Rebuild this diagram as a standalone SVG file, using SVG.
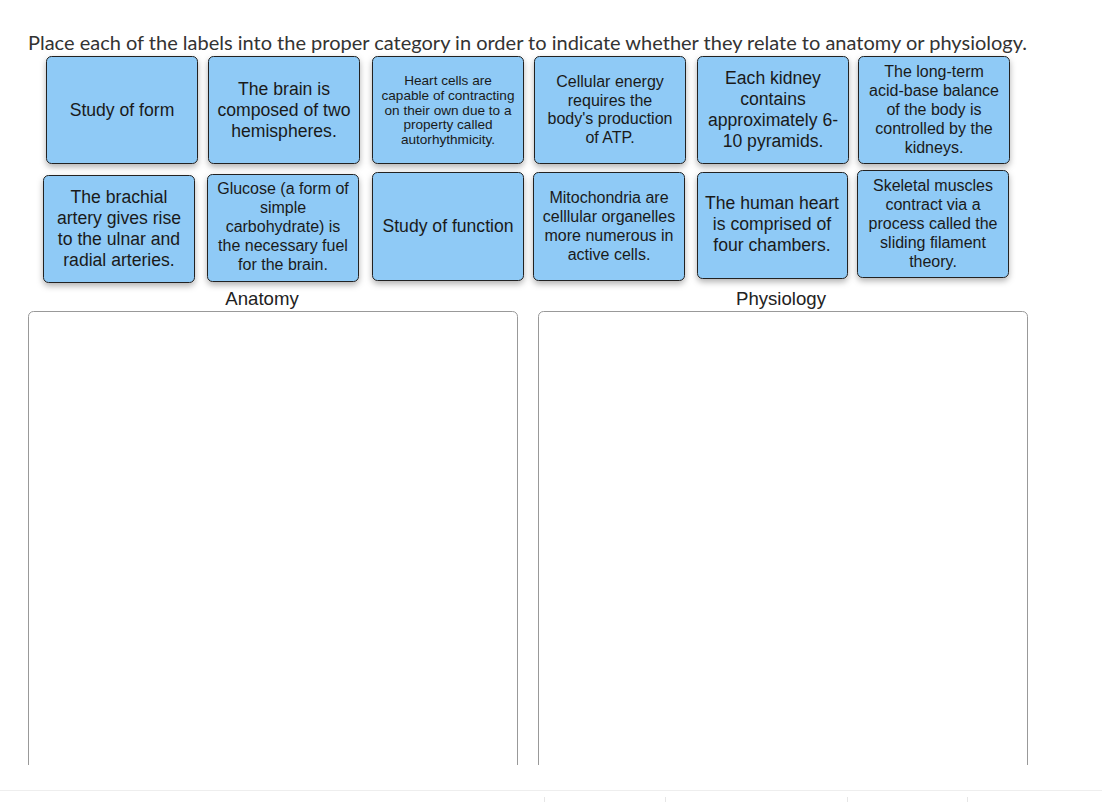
<svg xmlns="http://www.w3.org/2000/svg" width="1102" height="802" viewBox="0 0 1102 802">
<defs>
<filter id="sh" x="-10%" y="-10%" width="120%" height="130%">
<feDropShadow dx="0" dy="3" stdDeviation="3" flood-color="#000" flood-opacity="0.3"/>
</filter>
</defs>
<style>
.card{fill:#8fcaf6;stroke:#222;stroke-width:1;filter:url(#sh)}
.t{font-family:"Liberation Sans",Arial,sans-serif;fill:#1a1a1a;text-anchor:middle}
.l{font-size:17.6px}
.m{font-size:16px}
.s{font-size:13.6px}
.zone{fill:#fff;stroke:#999;stroke-width:1}
.hd{font-family:"Liberation Sans",Arial,sans-serif;font-size:18.6px;fill:#222;text-anchor:middle}
</style>
<rect width="1102" height="802" fill="#fff"/>
<text x="28" y="50" font-family="Lato,'Open Sans',sans-serif" font-size="18.5" fill="#333" textLength="999" lengthAdjust="spacingAndGlyphs">Place each of the labels into the proper category in order to indicate whether they relate to anatomy or physiology.</text>

<g id="card-study-form"><rect class="card" x="46.5" y="56.5" width="151" height="107" rx="5"/><text class="t l" x="122" y="116">Study of form</text></g>
<g id="card-brain"><rect class="card" x="208.5" y="56.5" width="151" height="107" rx="5"/><text class="t l"><tspan x="284" y="95">The brain is</tspan><tspan x="284" y="116">composed of two</tspan><tspan x="284" y="136.5">hemispheres.</tspan></text></g>
<g id="card-heart-cells"><rect class="card" x="372.5" y="56.5" width="151" height="107" rx="5"/><text class="t s"><tspan x="448" y="85">Heart cells are</tspan><tspan x="448" y="99.5">capable of contracting</tspan><tspan x="448" y="114.5">on their own due to a</tspan><tspan x="448" y="129">property called</tspan><tspan x="448" y="144">autorhythmicity.</tspan></text></g>
<g id="card-atp"><rect class="card" x="534.5" y="56.5" width="151" height="107" rx="5"/><text class="t m"><tspan x="610" y="86.5">Cellular energy</tspan><tspan x="610" y="105.5">requires the</tspan><tspan x="610" y="124">body's production</tspan><tspan x="610" y="142.5">of ATP.</tspan></text></g>
<g id="card-kidney"><rect class="card" x="697.5" y="56.5" width="151" height="107" rx="5"/><text class="t l"><tspan x="773" y="84">Each kidney</tspan><tspan x="773" y="105">contains</tspan><tspan x="773" y="126">approximately 6-</tspan><tspan x="773" y="147">10 pyramids.</tspan></text></g>
<g id="card-acid-base"><rect class="card" x="858.5" y="56.5" width="151" height="107" rx="5"/><text class="t m"><tspan x="934" y="77">The long-term</tspan><tspan x="934" y="96">acid-base balance</tspan><tspan x="934" y="115">of the body is</tspan><tspan x="934" y="134">controlled by the</tspan><tspan x="934" y="153">kidneys.</tspan></text></g>

<g id="card-brachial"><rect class="card" x="43.5" y="175.5" width="151" height="107" rx="5"/><text class="t l"><tspan x="119" y="202.5">The brachial</tspan><tspan x="119" y="223.5">artery gives rise</tspan><tspan x="119" y="244.5">to the ulnar and</tspan><tspan x="119" y="265.5">radial arteries.</tspan></text></g>
<g id="card-glucose"><rect class="card" x="207.5" y="174.5" width="151" height="107" rx="5"/><text class="t m"><tspan x="283" y="194">Glucose (a form of</tspan><tspan x="283" y="213">simple</tspan><tspan x="283" y="232">carbohydrate) is</tspan><tspan x="283" y="251">the necessary fuel</tspan><tspan x="283" y="270">for the brain.</tspan></text></g>
<g id="card-study-function"><rect class="card" x="372.5" y="172.5" width="151" height="108" rx="5"/><text class="t l" x="448" y="231.5">Study of function</text></g>
<g id="card-mitochondria"><rect class="card" x="533.5" y="172.5" width="151" height="108" rx="5"/><text class="t m"><tspan x="609" y="202.5">Mitochondria are</tspan><tspan x="609" y="221.5">celllular organelles</tspan><tspan x="609" y="240.5">more numerous in</tspan><tspan x="609" y="259.5">active cells.</tspan></text></g>
<g id="card-heart"><rect class="card" x="697.5" y="172.5" width="150" height="106" rx="5"/><text class="t l"><tspan x="772" y="209">The human heart</tspan><tspan x="772" y="230">is comprised of</tspan><tspan x="772" y="251">four chambers.</tspan></text></g>
<g id="card-skeletal"><rect class="card" x="857.5" y="170.5" width="151" height="107" rx="5"/><text class="t m"><tspan x="933" y="190.5">Skeletal muscles</tspan><tspan x="933" y="209.5">contract via a</tspan><tspan x="933" y="228.5">process called the</tspan><tspan x="933" y="247.5">sliding filament</tspan><tspan x="933" y="266.5">theory.</tspan></text></g>

<g id="zone-anatomy"><text class="hd" x="262" y="304.5">Anatomy</text><path class="zone" d="M28.5,770 V316.5 a5,5 0 0 1 5,-5 H512.5 a5,5 0 0 1 5,5 V770"/></g>
<g id="zone-physiology"><text class="hd" x="781" y="304.5">Physiology</text><path class="zone" d="M538.5,770 V316.5 a5,5 0 0 1 5,-5 H1022.5 a5,5 0 0 1 5,5 V770"/></g>
<rect x="0" y="765" width="1102" height="37" fill="#fff"/>
<line x1="0" y1="790.5" x2="1102" y2="790.5" stroke="#eee" stroke-width="1"/>
<g stroke="#e6e6e6" stroke-width="1"><line x1="544.5" y1="797" x2="544.5" y2="802"/><line x1="665.5" y1="797" x2="665.5" y2="802"/><line x1="847.5" y1="797" x2="847.5" y2="802"/><line x1="967.5" y1="797" x2="967.5" y2="802"/></g>
</svg>
